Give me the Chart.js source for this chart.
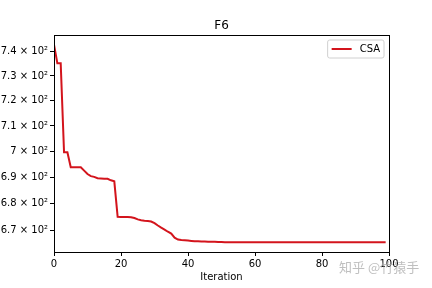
<!DOCTYPE html>
<html>
<head>
<meta charset="utf-8">
<script src="https://cdn.jsdelivr.net/npm/chart.js@4/dist/chart.umd.min.js"></script>
<style>
html,body{margin:0;padding:0;background:#fff;}
#wrap{width:432px;height:288px;position:relative;}
</style>
</head>
<body>
<div id="wrap"><canvas id="c" width="432" height="288"></canvas></div>
<script>
const chartTitle = "F6";
const seriesName = "CSA";
const xLabel = "Iteration";
const watermark = "知乎 @竹猿手";
const iterations = [0,1,2,3,4,5,6,7,8,9,10,11,12,13,14,15,16,17,18,19,
  20,21,22,23,24,25,26,27,28,29,30,31,32,33,34,35,36,37,38,39,
  40,41,42,43,44,45,46,47,48,49,50,51,52,53,54,55,56,57,58,59,
  60,61,62,63,64,65,66,67,68,69,70,71,72,73,74,75,76,77,78,79,
  80,81,82,83,84,85,86,87,88,89,90,91,92,93,94,95,96,97,98,99];
const csaValues = [742.8,735.2,735.2,699.7,699.7,693.9,693.9,693.9,693.9,692.6,
  691.3,690.5,690.2,689.7,689.6,689.5,689.5,688.9,688.5,675.1,
  675.0,675.0,675.0,674.9,674.6,674.1,673.8,673.6,673.5,673.3,
  672.7,671.8,671.0,670.3,669.5,668.8,667.3,666.6,666.4,666.3,
  666.2,666.1,666.0,666.0,665.9,665.9,665.8,665.8,665.8,665.7,
  665.7,665.6,665.6,665.6,665.6,665.6,665.6,665.6,665.6,665.6,
  665.6,665.6,665.6,665.6,665.6,665.6,665.6,665.6,665.6,665.6,
  665.6,665.6,665.6,665.6,665.6,665.6,665.6,665.6,665.6,665.6,
  665.6,665.6,665.6,665.6,665.6,665.6,665.6,665.6,665.6,665.6,
  665.6,665.6,665.6,665.6,665.6,665.6,665.6,665.6,665.6,665.6];
const yTicks = [670,680,690,700,710,720,730,740];
const xTicks = [0,20,40,60,80,100];

const FONT = "'DejaVu Sans', sans-serif";
const RED = '#d3141c';

const framePlugin = {
  id: 'frame',
  afterDraw(chart) {
    const ctx = chart.ctx, a = chart.chartArea;
    ctx.save();
    ctx.strokeStyle = '#000';
    ctx.lineWidth = 1;
    ctx.strokeRect(Math.round(a.left) + 0.5, Math.round(a.top) + 0.5,
      Math.round(a.right) - Math.round(a.left), Math.round(a.bottom) - Math.round(a.top));
    // title centred over the plot area
    ctx.font = "12px " + FONT;
    ctx.fillStyle = '#000';
    ctx.textAlign = 'center';
    ctx.textBaseline = 'middle';
    ctx.fillText(chartTitle, (a.left + a.right) / 2, a.top - 9);
    // legend
    const ds = chart.data.datasets[0];
    ctx.font = "10px " + FONT;
    ctx.textAlign = 'left';
    const tw = ctx.measureText(ds.label).width;
    const right = a.right - 5, top = a.top + 5;
    const w = 4 + 20 + 8 + tw + 4, h = 18;
    const left = right - w;
    ctx.beginPath();
    const r = 2;
    ctx.moveTo(left + r, top);
    ctx.arcTo(right, top, right, top + h, r);
    ctx.arcTo(right, top + h, left, top + h, r);
    ctx.arcTo(left, top + h, left, top, r);
    ctx.arcTo(left, top, right, top, r);
    ctx.closePath();
    ctx.fillStyle = 'rgba(255,255,255,0.8)';
    ctx.fill();
    ctx.strokeStyle = '#d0d0d0';
    ctx.lineWidth = 1;
    ctx.stroke();
    ctx.beginPath();
    ctx.moveTo(left + 4, top + h / 2);
    ctx.lineTo(left + 24, top + h / 2);
    ctx.strokeStyle = ds.borderColor;
    ctx.lineWidth = 2;
    ctx.stroke();
    ctx.fillStyle = '#000';
    ctx.textBaseline = 'middle';
    ctx.fillText(ds.label, left + 32, top + h / 2 + 0.5);
    // watermark
    ctx.font = "13px 'Noto Sans CJK SC', sans-serif";
    ctx.fillStyle = 'rgba(170,170,170,0.75)';
    ctx.fillText(watermark, 339, 267);
    ctx.restore();
  }
};

new Chart(document.getElementById('c'), {
  type: 'line',
  data: {
    datasets: [{
      label: seriesName,
      data: iterations.map((x, i) => ({ x: x, y: csaValues[i] })),
      borderColor: RED,
      backgroundColor: RED,
      borderWidth: 2,
      pointRadius: 0,
      tension: 0,
      fill: false
    }]
  },
  options: {
    responsive: false,
    animation: false,
    devicePixelRatio: 1,
    layout: { padding: { left: 0, right: 43, top: 35, bottom: 0 } },
    plugins: {
      legend: { display: false },
      tooltip: { enabled: false },
      title: { display: false }
    },
    scales: {
      x: {
        type: 'linear',
        min: 0, max: 100,
        afterFit(s) { s.height = 36; },
        afterBuildTicks(s) { s.ticks = xTicks.map(v => ({ value: v })); },
        grid: { display: true, drawOnChartArea: false, drawTicks: true, tickLength: 4, color: '#000' },
        border: { display: true, color: '#000', width: 1 },
        ticks: { color: '#000', font: { family: FONT, size: 10 }, padding: 2, maxRotation: 0 },
        title: { display: true, text: xLabel, color: '#000', font: { family: FONT, size: 10 }, padding: { top: 0, bottom: 5 } }
      },
      y: {
        type: 'logarithmic',
        min: 662.0, max: 746.8,
        afterFit(s) { s.width = 54; },
        afterBuildTicks(s) { s.ticks = yTicks.map(v => ({ value: v })); },
        grid: { display: true, drawOnChartArea: false, drawTicks: true, tickLength: 4, color: '#000' },
        border: { display: true, color: '#000', width: 1 },
        ticks: {
          color: '#000', font: { family: FONT, size: 10 }, padding: 2, autoSkip: false,
          callback(v) {
            const m = v / 100;
            const s = Math.abs(m - Math.round(m)) < 1e-9 ? String(Math.round(m)) : m.toFixed(1);
            return s + ' \u00d7 10\u00b2';
          }
        }
      }
    }
  },
  plugins: [framePlugin]
});
</script>
</body>
</html>
